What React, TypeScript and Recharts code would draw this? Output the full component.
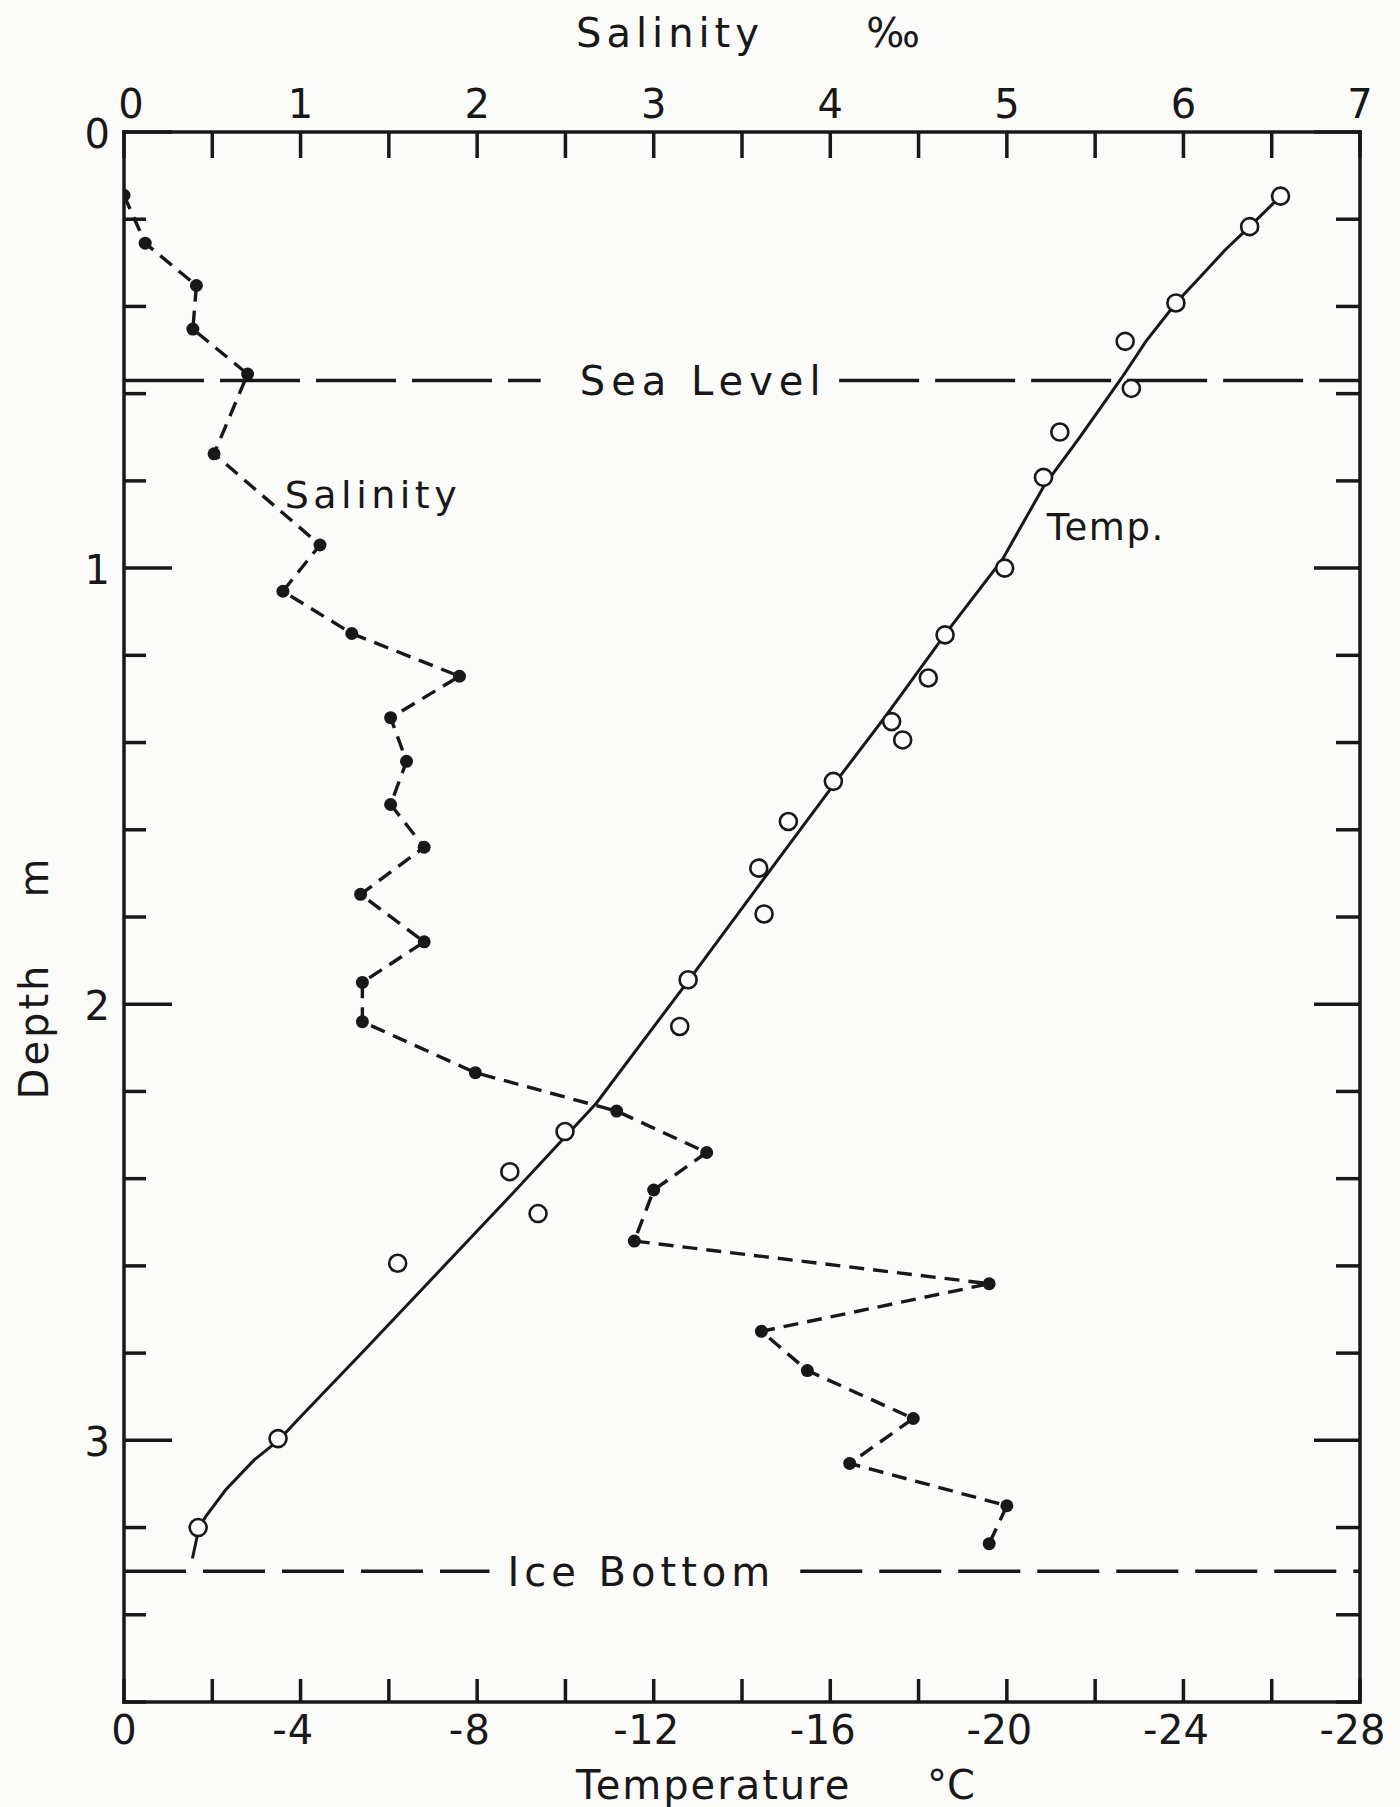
import React from 'react'
import { ScatterChart, Scatter, XAxis, YAxis, ReferenceLine } from 'recharts'

const INK = '#181818'
const PAPER = '#fbfbf9'
const FONT = '"DejaVu Sans", "Liberation Sans", sans-serif'

// Salinity (‰) measured down the ice core, depth in m
const salinityDepth = [0.145, 0.255, 0.352, 0.452, 0.555, 0.738, 0.947, 1.053, 1.15, 1.248, 1.343, 1.443, 1.542, 1.64, 1.748, 1.857, 1.95, 2.04, 2.157, 2.245, 2.34, 2.426, 2.543, 2.641, 2.75, 2.84, 2.95, 3.053, 3.15, 3.237]
const salinityValue = [0, 0.12, 0.41, 0.39, 0.7, 0.51, 1.11, 0.9, 1.29, 1.9, 1.51, 1.6, 1.51, 1.7, 1.34, 1.7, 1.35, 1.35, 1.99, 2.79, 3.3, 3.0, 2.89, 4.9, 3.61, 3.87, 4.47, 4.11, 5.0, 4.9]

// Measured temperatures (°C)
const tempObsDepth = [0.147, 0.217, 0.392, 0.48, 0.588, 0.688, 0.792, 1.0, 1.153, 1.252, 1.352, 1.394, 1.489, 1.581, 1.688, 1.793, 1.944, 2.051, 2.292, 2.384, 2.48, 2.594, 2.996, 3.2]
const tempObsValue = [-26.2, -25.5, -23.83, -22.68, -22.82, -21.2, -20.83, -19.95, -18.6, -18.22, -17.39, -17.64, -16.07, -15.05, -14.38, -14.5, -12.78, -12.59, -9.99, -8.74, -9.38, -6.2, -3.49, -1.68]

// Hand-drawn temperature curve through the measurements
const tempFitDepth = [0.147, 0.217, 0.27, 0.33, 0.39, 0.48, 0.564, 0.7, 0.81, 0.98, 1.145, 1.34, 1.48, 1.65, 1.944, 2.227, 2.445, 2.793, 2.946, 3.0, 3.045, 3.114, 3.175, 3.2, 3.271]
const tempFitValue = [-26.2, -25.5, -24.95, -24.4, -23.85, -23.15, -22.6, -21.65, -20.85, -19.9, -18.65, -17.25, -16.2, -14.95, -12.8, -10.7, -8.7, -5.45, -4.0, -3.5, -2.95, -2.3, -1.85, -1.7, -1.55]

const depthTicks = [0, 0.2, 0.4, 0.6, 0.8, 1, 1.2, 1.4, 1.6, 1.8, 2, 2.2, 2.4, 2.6, 2.8, 3, 3.2, 3.4, 3.6]
const salinityTicks = [0, 0.5, 1, 1.5, 2, 2.5, 3, 3.5, 4, 4.5, 5, 5.5, 6, 6.5, 7]
const tempTicks = [0, -2, -4, -6, -8, -10, -12, -14, -16, -18, -20, -22, -24, -26, -28]

const seaLevelDepth = 0.57
const iceBottomDepth = 3.3

const salinityData = salinityDepth.map((d, i) => ({ d, s: salinityValue[i] }))
const tempObsData = tempObsDepth.map((d, i) => ({ d, t: tempObsValue[i] }))
const tempFitData = tempFitDepth.map((d, i) => ({ d, t: tempFitValue[i] }))

// in-plot captions, anchored in salinity / depth units
const captions = [
  { s: 3.28, d: seaLevelDepth, text: 'Sea Level', size: 40, spacing: 6 },
  { s: 2.93, d: iceBottomDepth, text: 'Ice Bottom', size: 40, spacing: 5 },
  { s: 1.41, d: 0.83, text: 'Salinity', size: 38, spacing: 4.5 },
  { s: 5.56, d: 0.905, text: 'Temp.', size: 37, spacing: 1.5 },
]

const isWhole = (v: number) => Math.abs(v - Math.round(v)) < 1e-6
const TW = 3.5 // tick stroke

// ticks point into the plot, labels sit outside the frame
const SalinityTick = (props: any) => {
  const { x, y, payload } = props
  const v = payload.value
  return (
    <g>
      <rect x={x - TW / 2} y={y} width={TW} height={26} fill={INK} />
      {isWhole(v) && (
        <text x={x + (v === 0 ? 7 : 0)} y={y - 14} textAnchor="middle" fontSize={40} fontFamily={FONT} fill={INK}>
          {v}
        </text>
      )}
    </g>
  )
}

const TempTick = (props: any) => {
  const { x, y, payload } = props
  const v = payload.value
  const digits = String(Math.abs(v))
  const half = digits.length * 12
  return (
    <g>
      <rect x={x - TW / 2} y={y - 23} width={TW} height={23} fill={INK} />
      {v % 4 === 0 && (
        <g fontSize={40} fontFamily={FONT} fill={INK}>
          <text x={x} y={y + 42} textAnchor="middle">{digits}</text>
          {v < 0 && <text x={x - half - 2} y={y + 42} textAnchor="end">-</text>}
        </g>
      )}
    </g>
  )
}

const DepthTick = (props: any) => {
  const { x, y, payload } = props
  const v = payload.value
  const major = isWhole(v)
  return (
    <g>
      <line x1={x} y1={y} x2={x + (major ? 48 : 22)} y2={y} stroke={INK} strokeWidth={TW} />
      {major && (
        <text x={x - 14} y={y + 16} textAnchor="end" fontSize={40} fontFamily={FONT} fill={INK}>
          {Math.round(v)}
        </text>
      )}
    </g>
  )
}

const RightTick = (props: any) => {
  const { x, y, payload } = props
  const major = isWhole(payload.value)
  return <line x1={x} y1={y} x2={x - (major ? 46 : 24)} y2={y} stroke={INK} strokeWidth={TW} />
}

const SalinityDot = (p: any) => <circle cx={p.cx} cy={p.cy} r={6.5} fill={INK} />
const OpenCircle = (p: any) => <circle cx={p.cx} cy={p.cy} r={8.5} fill={PAPER} stroke={INK} strokeWidth={2.6} />
const NoDot = () => <g />
const CaptionMark = (p: any) => (
  <text
    x={p.cx}
    y={p.cy}
    dy="0.36em"
    textAnchor="middle"
    fontSize={p.payload.size}
    letterSpacing={p.payload.spacing}
    fontFamily={FONT}
    fill={INK}
  >
    {p.payload.text}
  </text>
)

const axisLine = { stroke: INK, strokeWidth: TW, strokeLinecap: 'square' as const }
const tickBase = { tickSize: 0, tickMargin: 0, tickLine: false, interval: 0 as const, allowDataOverflow: true, axisLine }

export default function App() {
  return (
    <div style={{ position: 'absolute', left: 0, top: 0, width: 1400, height: 1807, background: PAPER }}>
      <ScatterChart width={1400} height={1807} margin={{ top: 0, right: 0, bottom: 0, left: 0 }}>
        <XAxis
          xAxisId="sal"
          orientation="top"
          type="number"
          dataKey="s"
          domain={[0, 7]}
          ticks={salinityTicks}
          height={132}
          tick={<SalinityTick />}
          {...tickBase}
        />
        <XAxis
          xAxisId="temp"
          orientation="bottom"
          type="number"
          dataKey="t"
          domain={[-28, 0]}
          reversed
          ticks={tempTicks}
          height={105}
          tick={<TempTick />}
          {...tickBase}
        />
        <YAxis
          yAxisId="depth"
          type="number"
          dataKey="d"
          domain={[0, 3.6]}
          reversed
          ticks={depthTicks}
          width={124}
          tick={<DepthTick />}
          {...tickBase}
        />
        <YAxis
          yAxisId="right"
          orientation="right"
          type="number"
          dataKey="d"
          domain={[0, 3.6]}
          reversed
          ticks={depthTicks}
          width={40}
          tick={<RightTick />}
          {...tickBase}
        />

        {/* sea level and ice bottom, broken where the caption sits */}
        <ReferenceLine xAxisId="sal" yAxisId="depth" segment={[{ x: 0, y: seaLevelDepth }, { x: 2.36, y: seaLevelDepth }]} stroke={INK} strokeWidth={TW} strokeDasharray="80 16" />
        <ReferenceLine xAxisId="sal" yAxisId="depth" segment={[{ x: 4.05, y: seaLevelDepth }, { x: 7, y: seaLevelDepth }]} stroke={INK} strokeWidth={TW} strokeDasharray="80 16" />
        <ReferenceLine xAxisId="sal" yAxisId="depth" segment={[{ x: 0, y: iceBottomDepth }, { x: 2.07, y: iceBottomDepth }]} stroke={INK} strokeWidth={TW} strokeDasharray="62 17" />
        <ReferenceLine xAxisId="sal" yAxisId="depth" segment={[{ x: 3.83, y: iceBottomDepth }, { x: 7, y: iceBottomDepth }]} stroke={INK} strokeWidth={TW} strokeDasharray="62 17" />

        <Scatter
          name="Salinity"
          data={salinityData}
          xAxisId="sal"
          yAxisId="depth"
          line={{ stroke: INK, strokeWidth: 3.4, strokeDasharray: '15 9' }}
          lineType="joint"
          shape={<SalinityDot />}
          isAnimationActive={false}
        />
        <Scatter
          name="Temp fit"
          data={tempFitData}
          xAxisId="temp"
          yAxisId="depth"
          line={{ stroke: INK, strokeWidth: 3 }}
          lineType="joint"
          shape={<NoDot />}
          isAnimationActive={false}
        />
        <Scatter
          name="Temp."
          data={tempObsData}
          xAxisId="temp"
          yAxisId="depth"
          shape={<OpenCircle />}
          isAnimationActive={false}
        />
        <Scatter
          name="captions"
          data={captions}
          xAxisId="sal"
          yAxisId="depth"
          shape={<CaptionMark />}
          isAnimationActive={false}
        />
      </ScatterChart>

      {/* axis titles */}
      <svg width={1400} height={1807} style={{ position: 'absolute', left: 0, top: 0, pointerEvents: 'none' }}>
        <g fontFamily={FONT} fill={INK} fontSize={40}>
          <text x={576} y={47} letterSpacing={5}>Salinity</text>
          <text x={893} y={47} textAnchor="middle">‰</text>
          <text x={576} y={1799} letterSpacing={2}>Temperature</text>
          <text x={951} y={1799} textAnchor="middle">°C</text>
          <text transform="translate(48,1031) rotate(-90)" textAnchor="middle" letterSpacing={3}>Depth</text>
          <text transform="translate(48,878) rotate(-90)" textAnchor="middle">m</text>
        </g>
      </svg>
    </div>
  )
}
